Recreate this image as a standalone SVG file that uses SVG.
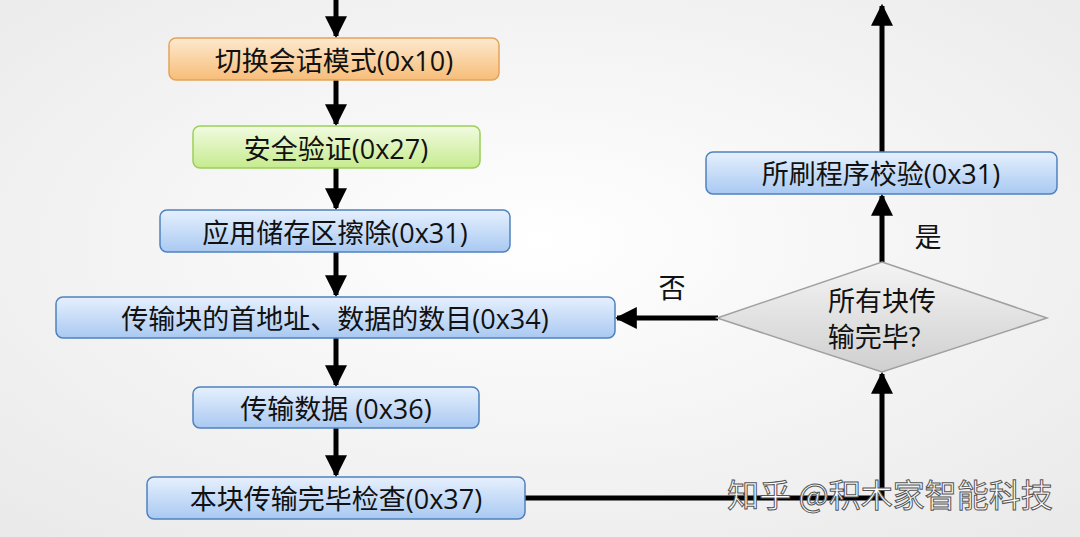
<svg xmlns="http://www.w3.org/2000/svg" width="1080" height="537" viewBox="0 0 1080 537">
<defs>
<radialGradient id="bg" cx="0.5" cy="0.45" r="0.75"><stop offset="0" stop-color="#ffffff"/><stop offset="1" stop-color="#e9e9e9"/></radialGradient>
<linearGradient id="gb" x1="0" y1="0" x2="0" y2="1"><stop offset="0" stop-color="#e6f0fd"/><stop offset="1" stop-color="#a9c9f2"/></linearGradient>
<linearGradient id="go" x1="0" y1="0" x2="0" y2="1"><stop offset="0" stop-color="#fde9cf"/><stop offset="1" stop-color="#f7bd78"/></linearGradient>
<linearGradient id="gg" x1="0" y1="0" x2="0" y2="1"><stop offset="0" stop-color="#f1fbe0"/><stop offset="1" stop-color="#c6eb8e"/></linearGradient>
<linearGradient id="gd" x1="0" y1="0" x2="0" y2="1"><stop offset="0" stop-color="#f4f4f4"/><stop offset="1" stop-color="#cfcfcf"/></linearGradient>
<marker id="ah" viewBox="0 0 10 10" refX="9" refY="5" markerWidth="4.4" markerHeight="4.4" orient="auto" markerUnits="strokeWidth"><path d="M0,0L10,5L0,10z" fill="#000"/></marker>
</defs>
<style>
.b{stroke:#4f81bd;stroke-width:1.5;fill:url(#gb)}
.t{font-family:"Open Sans","Noto Sans CJK SC",sans-serif;font-size:27px;fill:#111;text-anchor:middle;dominant-baseline:central}
.c{stroke:#000;stroke-width:5;fill:none}
</style>
<rect width="1080" height="537" fill="url(#bg)"/>
<g id="connectors">
<path class="c" d="M336,0V36" marker-end="url(#ah)"/>
<path class="c" d="M336,80V124" marker-end="url(#ah)"/>
<path class="c" d="M336,168V208" marker-end="url(#ah)"/>
<path class="c" d="M336,252V295" marker-end="url(#ah)"/>
<path class="c" d="M336,338V385" marker-end="url(#ah)"/>
<path class="c" d="M336,428V475" marker-end="url(#ah)"/>
<path class="c" d="M525,498H882V374" marker-end="url(#ah)"/>
<path class="c" d="M718,318H617" marker-end="url(#ah)"/>
<path class="c" d="M882,262V196" marker-end="url(#ah)"/>
<path class="c" d="M882,152V6" marker-end="url(#ah)"/>
<text class="t" x="672" y="287">否</text>
<text class="t" x="928" y="236">是</text>
</g>
<g id="n1"><rect x="169" y="38" width="330" height="42" rx="7" fill="url(#go)" stroke="#e5a35a" stroke-width="1.5"/><text class="t" x="334" y="60">切换会话模式(0x10)</text></g>
<g id="n2"><rect x="193" y="126" width="287" height="42" rx="7" fill="url(#gg)" stroke="#9bcf5a" stroke-width="1.5"/><text class="t" x="336" y="148">安全验证(0x27)</text></g>
<g id="n3"><rect class="b" x="160" y="210" width="350" height="42" rx="7"/><text class="t" x="335" y="232">应用储存区擦除(0x31)</text></g>
<g id="n4"><rect class="b" x="56" y="297" width="559" height="41" rx="7"/><text class="t" x="335" y="318">传输块的首地址、数据的数目(0x34)</text></g>
<g id="n5"><rect class="b" x="193" y="387" width="286" height="41" rx="7"/><text class="t" x="336" y="408">传输数据 (0x36)</text></g>
<g id="n6"><rect class="b" x="147" y="477" width="378" height="42" rx="7"/><text class="t" x="336" y="498">本块传输完毕检查(0x37)</text></g>
<g id="n7"><rect class="b" x="706" y="152" width="351" height="42" rx="7"/><text class="t" x="881" y="173">所刷程序校验(0x31)</text></g>
<g id="n8"><polygon points="882,262 1047,318 882,372 717,318" fill="url(#gd)" stroke="#a0a0a0" stroke-width="1.5"/><text class="t" x="882" y="300">所有块传</text><text class="t" x="874" y="336">输完毕?</text></g>
<text x="890" y="493" font-family="'Noto Sans CJK SC',sans-serif" font-size="32" text-anchor="middle" fill="#fff" stroke="#555" stroke-width="1" dominant-baseline="central">知乎 @积木家智能科技</text>
</svg>
